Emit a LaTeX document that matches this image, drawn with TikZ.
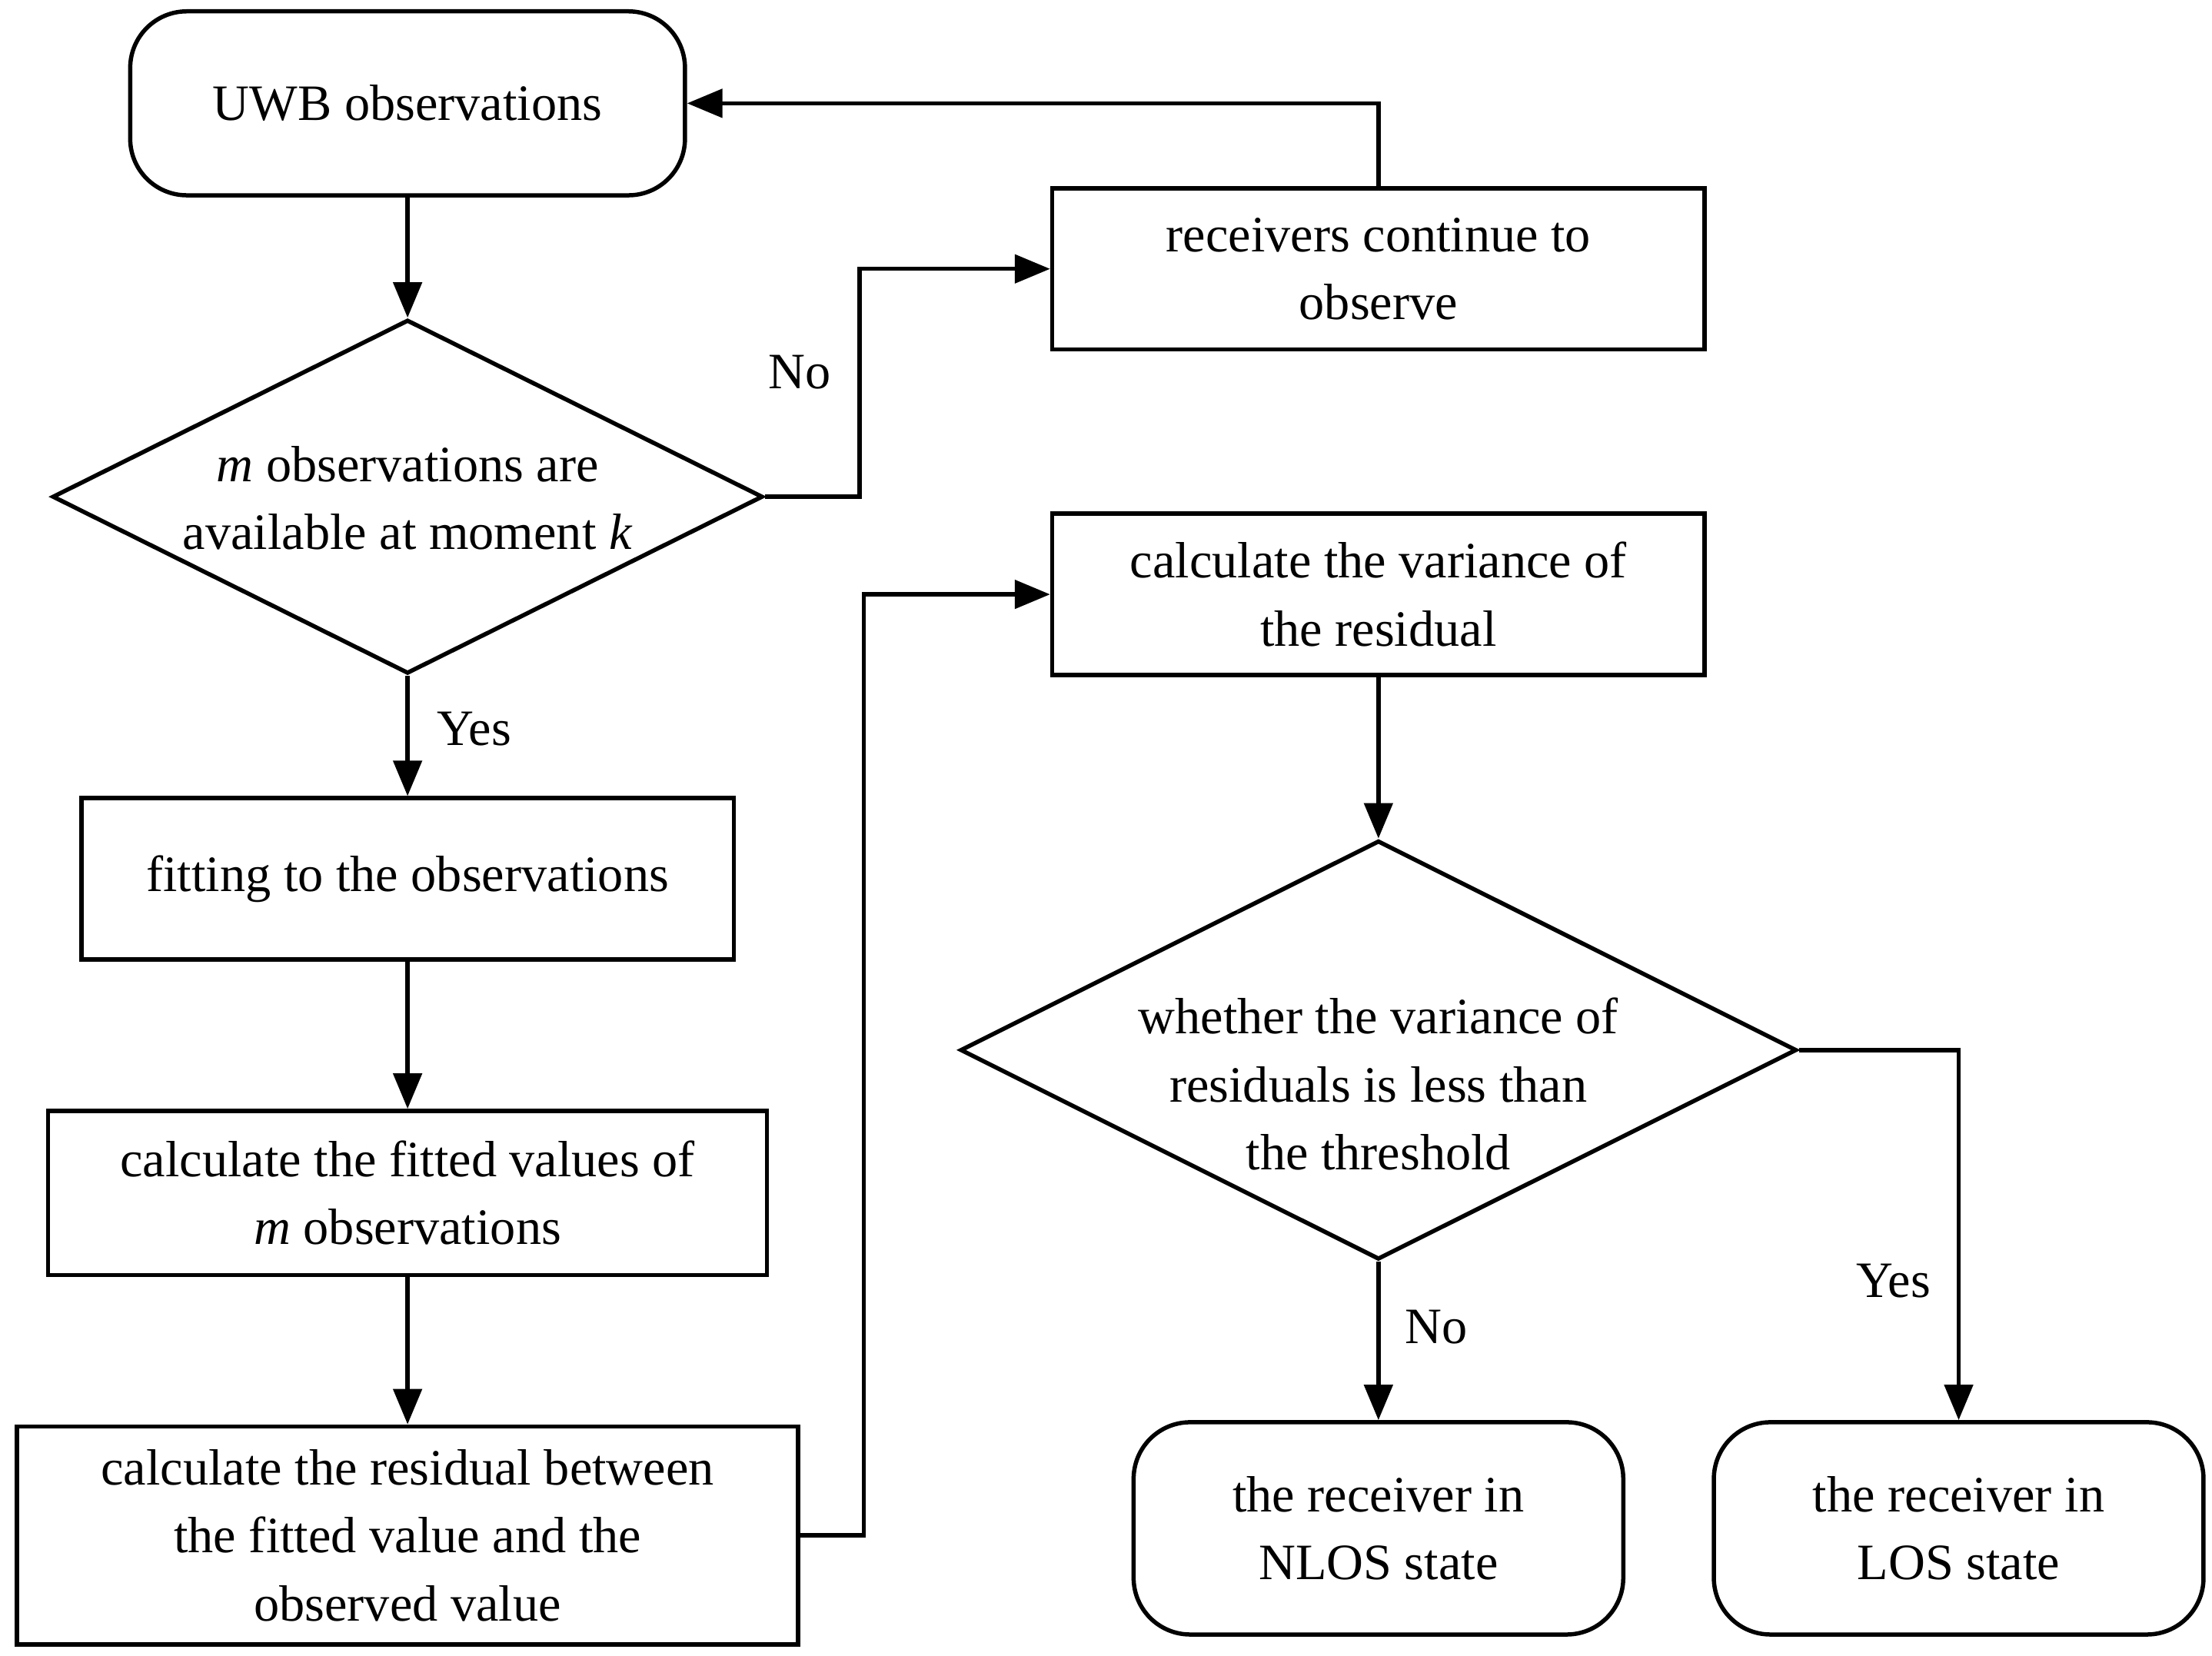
\documentclass[tikz,border=0pt]{standalone}
\usepackage{fontspec}
\setmainfont{Liberation Serif}
\usetikzlibrary{shapes.geometric,arrows.meta}
\begin{document}
\begin{tikzpicture}[
  font=\fontsize{20.5}{27.3}\selectfont,
  every node/.style={align=center},
  box/.style={draw,line width=1.7pt,inner sep=0,minimum width=#1},
  rbox/.style={draw,line width=1.7pt,inner sep=0,rounded corners=0.8cm},
  dia/.style={draw,diamond,line width=1.7pt,inner sep=0},
  arr/.style={line width=1.7pt,-{Triangle[length=0.5cm,width=0.4cm]}}
]
\useasboundingbox (0,0) rectangle (31.26,-23.4);
\node[rbox,minimum width=7.84cm,minimum height=2.6cm] (uwb) at (5.76,-1.46) {UWB observations};
\node[box=9.22cm,minimum height=2.28cm] (rec) at (19.48,-3.8) {receivers continue to\\observe};
\node[dia,minimum width=10.04cm,minimum height=5cm] (d1) at (5.76,-7.02) {};
\node (d1t) at (5.76,-7.04) {\textit{m} observations are\\available at moment \textit{k}};
\node[box=9.22cm,minimum height=2.28cm] (fit) at (5.76,-12.42) {fitting to the observations};
\node[box=10.16cm,minimum height=2.32cm] (calc) at (5.76,-16.86) {calculate the fitted values of\\\textit{m} observations};
\node[box=11.04cm,minimum height=3.08cm] (res) at (5.76,-21.7) {calculate the residual between\\the fitted value and the\\observed value};
\node[box=9.22cm,minimum height=2.28cm] (var) at (19.48,-8.4) {calculate the variance of\\the residual};
\node[dia,minimum width=11.82cm,minimum height=5.92cm] (d2) at (19.48,-14.84) {};
\node (d2t) at (19.48,-15.32) {whether the variance of\\residuals is less than\\the threshold};
\node[rbox,minimum width=6.92cm,minimum height=3cm] (nlos) at (19.48,-21.6) {the receiver in\\NLOS state};
\node[rbox,minimum width=6.92cm,minimum height=3cm] (los) at (27.68,-21.6) {the receiver in\\LOS state};
\draw[arr] (uwb) -- (d1);
\draw[arr] (d1.east) -- ++(1.34,0) coordinate (c1) |- (rec.west);
\node (no1) at (11.3,-5.26) {No};
\draw[arr] (rec.north) |- (uwb.east);
\draw[arr] (d1) -- (fit);
\node (yes1) at (6.7,-10.3) {Yes};
\draw[arr] (fit) -- (calc);
\draw[arr] (calc) -- (res);
\draw[arr] (res.east) -- ++(0.9,0) coordinate (c2) |- (var.west);
\draw[arr] (var) -- (d2);
\draw[arr] (d2) -- (nlos);
\node (no2) at (20.3,-18.76) {No};
\draw[arr] (d2.east) -| (los.north);
\node (yes2) at (26.76,-18.1) {Yes};
\end{tikzpicture}
\end{document}
